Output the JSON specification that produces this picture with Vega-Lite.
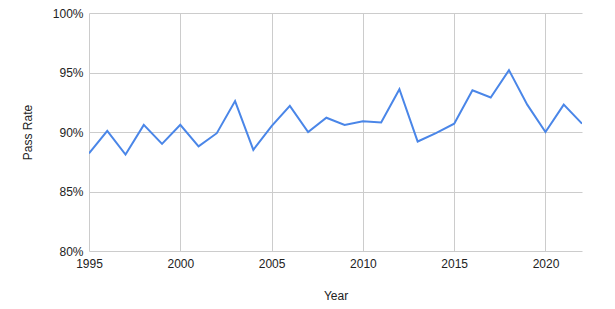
{
  "$schema": "https://vega.github.io/schema/vega-lite/v6.json",
  "width": 493,
  "height": 238,
  "autosize": {"type": "none"},
  "padding": {"left": 89, "top": 13, "right": 33, "bottom": 58},
  "background": "white",
  "config": {
    "view": {"stroke": null},
    "font": "Liberation Sans",
    "axis": {
      "labelFont": "Liberation Sans",
      "titleFont": "Liberation Sans",
      "labelFontSize": 12,
      "titleFontSize": 12,
      "labelColor": "#222222",
      "titleColor": "#222222",
      "titleFontWeight": "normal",
      "gridColor": "#cccccc",
      "gridWidth": 1,
      "domain": false,
      "ticks": false
    }
  },
  "data": {
    "values": [
      {"Year": 1995, "Rate": 0.882},
      {"Year": 1996, "Rate": 0.901},
      {"Year": 1997, "Rate": 0.881},
      {"Year": 1998, "Rate": 0.906},
      {"Year": 1999, "Rate": 0.890},
      {"Year": 2000, "Rate": 0.906},
      {"Year": 2001, "Rate": 0.888},
      {"Year": 2002, "Rate": 0.899},
      {"Year": 2003, "Rate": 0.926},
      {"Year": 2004, "Rate": 0.885},
      {"Year": 2005, "Rate": 0.905},
      {"Year": 2006, "Rate": 0.922},
      {"Year": 2007, "Rate": 0.900},
      {"Year": 2008, "Rate": 0.912},
      {"Year": 2009, "Rate": 0.906},
      {"Year": 2010, "Rate": 0.909},
      {"Year": 2011, "Rate": 0.908},
      {"Year": 2012, "Rate": 0.936},
      {"Year": 2013, "Rate": 0.892},
      {"Year": 2014, "Rate": 0.899},
      {"Year": 2015, "Rate": 0.907},
      {"Year": 2016, "Rate": 0.935},
      {"Year": 2017, "Rate": 0.929},
      {"Year": 2018, "Rate": 0.952},
      {"Year": 2019, "Rate": 0.923},
      {"Year": 2020, "Rate": 0.900},
      {"Year": 2021, "Rate": 0.923},
      {"Year": 2022, "Rate": 0.907}
    ]
  },
  "mark": {"type": "line", "color": "#4a86e8", "strokeWidth": 2, "clip": true},
  "encoding": {
    "x": {
      "field": "Year",
      "type": "quantitative",
      "scale": {"domain": [1995, 2022], "nice": false, "zero": false},
      "axis": {
        "title": "Year",
        "format": "d",
        "values": [1995, 2000, 2005, 2010, 2015, 2020],
        "labelPadding": 7,
        "titlePadding": 21,
        "labelFlush": false
      }
    },
    "y": {
      "field": "Rate",
      "type": "quantitative",
      "scale": {"domain": [0.8, 1.0], "nice": false, "zero": false},
      "axis": {
        "title": "Pass Rate",
        "format": ".0%",
        "values": [0.8, 0.85, 0.9, 0.95, 1.0],
        "labelPadding": 6,
        "titlePadding": 18
      }
    }
  }
}
